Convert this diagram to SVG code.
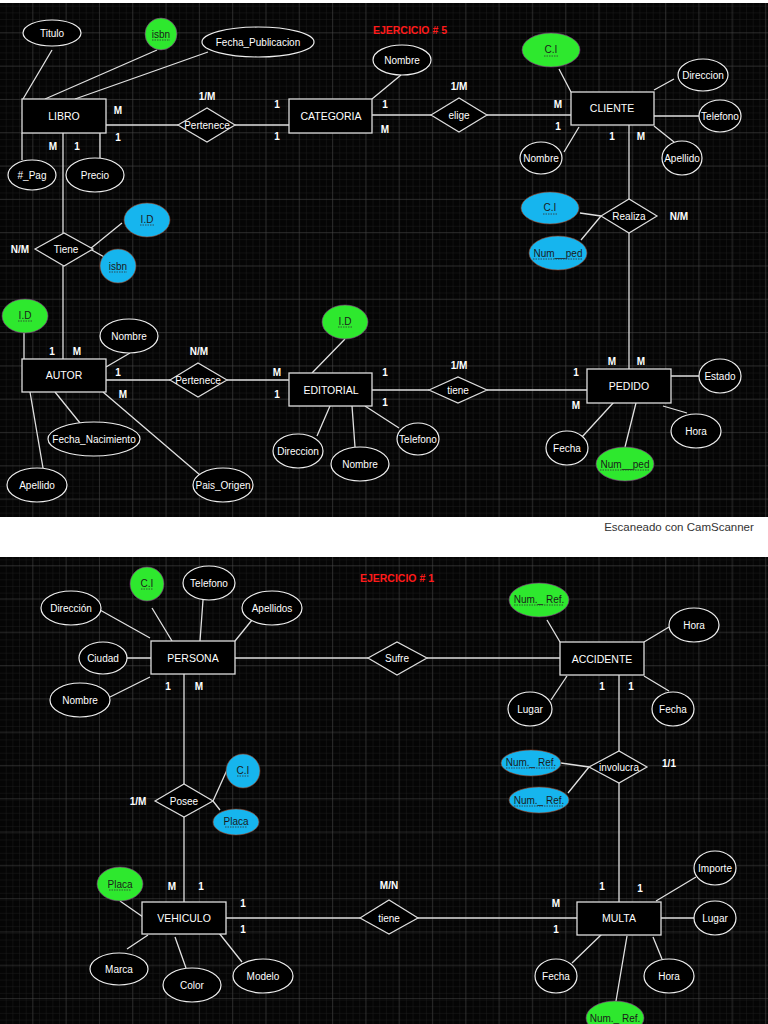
<svg xmlns="http://www.w3.org/2000/svg" width="768" height="1024" viewBox="0 0 768 1024">
<defs>
<pattern id="minor" width="6.67" height="6.67" patternUnits="userSpaceOnUse">
<path d="M6.67 0V6.67M0 6.67H6.67" fill="none" stroke="#262626" stroke-width="0.6"/>
</pattern>
<pattern id="major" width="33.3" height="33.3" patternUnits="userSpaceOnUse">
<path d="M33.3 0V33.3M0 33.3H33.3" fill="none" stroke="#4a4a4a" stroke-width="0.9"/>
</pattern>
</defs>
<style>
text{font-family:"Liberation Sans",Arial,sans-serif;font-size:10px;text-anchor:middle;dominant-baseline:central}
.w{fill:#fff}
.d{fill:#1a1a1a}
.e{font-size:10.5px}
.c{fill:#fff;font-weight:bold;font-size:10px}
.title{fill:#ff1a1a;font-weight:bold;font-size:10.5px}
.ent{fill:#000;stroke:#ddd;stroke-width:1.3}
.att{fill:#000;stroke:#eee;stroke-width:1.2}
.rel{fill:#000;stroke:#ddd;stroke-width:1.2}
.g{fill:#2ee82e;stroke:#8a2a8a;stroke-width:0.6}
.b{fill:#16b5ee;stroke:#a04020;stroke-width:0.6}
.ln{stroke:#e0e0e0;stroke-width:1.3;fill:none}
.ul{stroke:#333;stroke-width:0.8;stroke-dasharray:1.5 1;fill:none}
</style>
<rect width="768" height="1024" fill="#fff"/>
<rect x="0" y="3" width="768" height="514" fill="#050505"/>
<rect x="0" y="3" width="768" height="514" fill="url(#minor)"/>
<rect x="0" y="3" width="768" height="514" fill="url(#major)"/>
<rect x="0" y="557" width="768" height="467" fill="#050505"/>
<rect x="0" y="557" width="768" height="467" fill="url(#minor)"/>
<rect x="0" y="557" width="768" height="467" fill="url(#major)"/>
<text x="679" y="527" style="fill:#333;font-size:11.5px">Escaneado con CamScanner</text>

<g id="connectors">
<path class="ln" d="M52 50L23 99M157 50L45 99M208 52L75 99M22 133V160M100 133V158M106 125H178M235 125H289M401 75L372 99M372 115H431M487 115H571M559 69L571 92M654 90L674 79M654 116H699M654 126L674 142M564 152L579 127M629 125V199M629 233V369M580 213L601 216M581 240L601 216M63 133V233M63 266V359M90 249L122 223M90 249L106 258M24 333V359M106 367L130 353M106 380H170M227 380H289M312 373L345 339M55 392L80 423M30 392L43 468M103 392L200 475M330 406L317 436M352 406L355 447M365 406L399 428M372 390H429M487 390H587M671 376H699M663 406L687 413M614 402L582 437M636 403L625 447"/>
<path class="ln" d="M152 608L172 641M203 600L200 641M252 620L235 641M100 610L150 638M127 658H151M108 698L150 677M184 674V784M184 817V902M213 801L227 770M213 801L220 810M235 658H368M427 658H560M547 620L560 642M644 642L669 627M551 700L567 676M644 676L669 691M619 675V751M619 783V902M561 763L589 767M568 793L589 767M120 901L143 917M226 918H360M418 918H577M127 949L148 935M175 937L186 968M219 933L242 962M656 901L696 877M661 918H694M602 934L572 963M653 937L662 959M627 936L616 1001"/>
</g>

<text class="title" x="410" y="30">EJERCICIO # 5</text>
<text class="title" x="397" y="578">EJERCICIO # 1</text>

<g id="cards-top">
<text class="c" x="53" y="146">M</text><text class="c" x="77" y="146">1</text>
<text class="c" x="118" y="110">M</text><text class="c" x="118" y="137">1</text>
<text class="c" x="207" y="96">1/M</text>
<text class="c" x="277" y="104">1</text><text class="c" x="277" y="136">1</text>
<text class="c" x="385" y="104">1</text><text class="c" x="385" y="129">M</text>
<text class="c" x="459" y="86">1/M</text>
<text class="c" x="558" y="104">M</text><text class="c" x="558" y="126">1</text>
<text class="c" x="612" y="136">1</text><text class="c" x="641" y="136">M</text>
<text class="c" x="679" y="216">N/M</text>
<text class="c" x="20" y="249">N/M</text>
<text class="c" x="52" y="351">1</text><text class="c" x="77" y="351">M</text>
<text class="c" x="199" y="351">N/M</text>
<text class="c" x="118" y="372">1</text><text class="c" x="123" y="394">M</text>
<text class="c" x="277" y="372">M</text><text class="c" x="277" y="394">1</text>
<text class="c" x="385" y="372">1</text><text class="c" x="385" y="402">1</text>
<text class="c" x="459" y="365">1/M</text>
<text class="c" x="576" y="372">1</text><text class="c" x="576" y="405">M</text>
<text class="c" x="612" y="361">M</text><text class="c" x="641" y="361">M</text>
</g>

<g id="LIBRO"><rect class="ent" x="22" y="99" width="84" height="34"/><text class="w e" x="64" y="116">LIBRO</text></g>
<g id="Titulo"><ellipse class="att" cx="52" cy="33" rx="29" ry="13"/><text class="w" x="52" y="33">Titulo</text></g>
<g id="isbn"><circle class="g" cx="161" cy="34" r="16"/><text class="d" x="161" y="34">isbn</text><path class="ul" d="M152 40H170"/></g>
<g id="Fecha_Publicacion"><ellipse class="att" cx="258" cy="42" rx="56" ry="15"/><text class="w" x="258" y="42">Fecha_Publicacion</text></g>
<g id="Pag"><ellipse class="att" cx="32" cy="175" rx="24" ry="15"/><text class="w" x="32" y="175">#_Pag</text></g>
<g id="Precio"><ellipse class="att" cx="95" cy="175" rx="29" ry="17"/><text class="w" x="95" y="175">Precio</text></g>
<g id="Pertenece1"><path class="rel" d="M178 125L207 108L235 125L207 142Z"/><text class="w" x="207" y="125">Pertenece</text></g>
<g id="CATEGORIA"><rect class="ent" x="289" y="99" width="83" height="34"/><text class="w e" x="331" y="116">CATEGORIA</text></g>
<g id="NombreCat"><ellipse class="att" cx="402" cy="60" rx="29" ry="15"/><text class="w" x="402" y="60">Nombre</text></g>
<g id="elige"><path class="rel" d="M431 115L459 98L487 115L459 132Z"/><text class="w" x="459" y="115">elige</text></g>
<g id="CLIENTE"><rect class="ent" x="571" y="92" width="83" height="33"/><text class="w e" x="612" y="108">CLIENTE</text></g>
<g id="CI_cliente"><ellipse class="g" cx="551" cy="50" rx="29" ry="17"/><text class="d" x="551" y="49">C.I</text><path class="ul" d="M544 56H558"/></g>
<g id="Direccion_cliente"><ellipse class="att" cx="703" cy="75" rx="25" ry="16"/><text class="w" x="703" y="75">Direccion</text></g>
<g id="Telefono_cliente"><ellipse class="att" cx="720" cy="116" rx="21" ry="16"/><text class="w" x="720" y="116">Telefono</text></g>
<g id="Apellido_cliente"><ellipse class="att" cx="682" cy="158" rx="20" ry="17"/><text class="w" x="682" y="158">Apellido</text></g>
<g id="Nombre_cliente"><ellipse class="att" cx="541" cy="158" rx="21" ry="16"/><text class="w" x="541" y="158">Nombre</text></g>
<g id="Realiza"><path class="rel" d="M601 216L629 199L657 216L629 233Z"/><text class="w" x="629" y="216">Realiza</text></g>
<g id="CI_realiza"><ellipse class="b" cx="550" cy="208" rx="29" ry="16"/><text class="d" x="550" y="207">C.I</text><path class="ul" d="M543 214H557"/></g>
<g id="Numped_realiza"><ellipse class="b" cx="558" cy="253" rx="29" ry="17"/><text class="d" x="558" y="253">Num__ped</text><path class="ul" d="M533 259H583"/></g>
<g id="Tiene"><path class="rel" d="M35 249L64 233L93 249L64 266Z"/><text class="w" x="66" y="249">Tiene</text></g>
<g id="ID_tiene"><ellipse class="b" cx="147" cy="220" rx="23" ry="17"/><text class="d" x="147" y="219">I.D</text><path class="ul" d="M140 225H154"/></g>
<g id="isbn_tiene"><ellipse class="b" cx="118" cy="266" rx="18" ry="17"/><text class="d" x="118" y="266">isbn</text><path class="ul" d="M109 272H127"/></g>
<g id="AUTOR"><rect class="ent" x="22" y="359" width="84" height="33"/><text class="w e" x="64" y="375">AUTOR</text></g>
<g id="ID_autor"><ellipse class="g" cx="25" cy="316" rx="23" ry="17"/><text class="d" x="25" y="315">I.D</text><path class="ul" d="M18 321H32"/></g>
<g id="Nombre_autor"><ellipse class="att" cx="129" cy="336" rx="29" ry="17"/><text class="w" x="129" y="336">Nombre</text></g>
<g id="Fecha_Nacimiento"><ellipse class="att" cx="94" cy="439" rx="46" ry="17"/><text class="w" x="94" y="439">Fecha_Nacimiento</text></g>
<g id="Apellido_autor"><ellipse class="att" cx="37" cy="485" rx="30" ry="17"/><text class="w" x="37" y="485">Apellido</text></g>
<g id="Pais_Origen"><ellipse class="att" cx="223" cy="485" rx="30" ry="17"/><text class="w" x="223" y="485">Pais_Origen</text></g>
<g id="Pertenece2"><path class="rel" d="M170 380L198 363L227 380L198 397Z"/><text class="w" x="198" y="380">Pertenece</text></g>
<g id="EDITORIAL"><rect class="ent" x="289" y="373" width="83" height="33"/><text class="w e" x="331" y="390">EDITORIAL</text></g>
<g id="ID_editorial"><ellipse class="g" cx="345" cy="322" rx="23" ry="17"/><text class="d" x="345" y="321">I.D</text><path class="ul" d="M338 327H352"/></g>
<g id="Direccion_editorial"><ellipse class="att" cx="298" cy="451" rx="25" ry="17"/><text class="w" x="298" y="451">Direccion</text></g>
<g id="Nombre_editorial"><ellipse class="att" cx="360" cy="464" rx="29" ry="17"/><text class="w" x="360" y="464">Nombre</text></g>
<g id="Telefono_editorial"><ellipse class="att" cx="418" cy="439" rx="21" ry="16"/><text class="w" x="418" y="439">Telefono</text></g>
<g id="tiene_top"><path class="rel" d="M429 390L458 377L487 390L458 403Z"/><text class="w" x="458" y="390">tiene</text></g>
<g id="PEDIDO"><rect class="ent" x="587" y="369" width="84" height="34"/><text class="w e" x="629" y="386">PEDIDO</text></g>
<g id="Estado"><ellipse class="att" cx="720" cy="376" rx="21" ry="17"/><text class="w" x="720" y="376">Estado</text></g>
<g id="Hora_pedido"><ellipse class="att" cx="696" cy="431" rx="25" ry="17"/><text class="w" x="696" y="431">Hora</text></g>
<g id="Fecha_pedido"><ellipse class="att" cx="567" cy="448" rx="21" ry="17"/><text class="w" x="567" y="448">Fecha</text></g>
<g id="Numped_pedido"><ellipse class="g" cx="625" cy="464" rx="29" ry="17"/><text class="d" x="625" y="464">Num__ped</text><path class="ul" d="M600 470H650"/></g>

<g id="cards-bottom">
<text class="c" x="168" y="686">1</text><text class="c" x="199" y="686">M</text>
<text class="c" x="602" y="686">1</text><text class="c" x="631" y="686">1</text>
<text class="c" x="138" y="801">1/M</text>
<text class="c" x="669" y="763">1/1</text>
<text class="c" x="172" y="886">M</text><text class="c" x="201" y="886">1</text>
<text class="c" x="243" y="903">1</text><text class="c" x="243" y="929">1</text>
<text class="c" x="389" y="885">M/N</text>
<text class="c" x="556" y="903">M</text><text class="c" x="556" y="929">1</text>
<text class="c" x="602" y="886">1</text><text class="c" x="640" y="888">1</text>
</g>

<g id="PERSONA"><rect class="ent" x="151" y="641" width="84" height="33"/><text class="w e" x="193" y="658">PERSONA</text></g>
<g id="CI_persona"><circle class="g" cx="147" cy="584" r="17"/><text class="d" x="147" y="583">C.I</text><path class="ul" d="M141 589H153"/></g>
<g id="Telefono_persona"><ellipse class="att" cx="209" cy="583" rx="26" ry="17"/><text class="w" x="209" y="583">Telefono</text></g>
<g id="Apellidos"><ellipse class="att" cx="272" cy="608" rx="30" ry="17"/><text class="w" x="272" y="608">Apellidos</text></g>
<g id="Direccion_persona"><ellipse class="att" cx="71" cy="608" rx="30" ry="17"/><text class="w" x="71" y="608">Dirección</text></g>
<g id="Ciudad"><ellipse class="att" cx="103" cy="658" rx="24" ry="16"/><text class="w" x="103" y="658">Ciudad</text></g>
<g id="Nombre_persona"><ellipse class="att" cx="80" cy="700" rx="30" ry="17"/><text class="w" x="80" y="700">Nombre</text></g>
<g id="Sufre"><path class="rel" d="M368 658L397 642L427 658L397 675Z"/><text class="w" x="397" y="658">Sufre</text></g>
<g id="ACCIDENTE"><rect class="ent" x="560" y="642" width="84" height="33"/><text class="w e" x="602" y="659">ACCIDENTE</text></g>
<g id="NumRef_accidente"><ellipse class="g" cx="539" cy="600" rx="30" ry="17"/><text class="d" x="539" y="599">Num._ Ref.</text><path class="ul" d="M514 605H564"/></g>
<g id="Hora_accidente"><ellipse class="att" cx="694" cy="625" rx="25" ry="17"/><text class="w" x="694" y="625">Hora</text></g>
<g id="Lugar_accidente"><ellipse class="att" cx="530" cy="709" rx="22" ry="17"/><text class="w" x="530" y="709">Lugar</text></g>
<g id="Fecha_accidente"><ellipse class="att" cx="673" cy="709" rx="21" ry="17"/><text class="w" x="673" y="709">Fecha</text></g>
<g id="Posee"><path class="rel" d="M155 801L184 784L213 801L184 817Z"/><text class="w" x="184" y="801">Posee</text></g>
<g id="CI_posee"><circle class="b" cx="243" cy="771" r="17"/><text class="d" x="243" y="770">C.I</text><path class="ul" d="M237 776H249"/></g>
<g id="Placa_posee"><ellipse class="b" cx="236" cy="822" rx="23" ry="13"/><text class="d" x="236" y="821">Placa</text><path class="ul" d="M225 827H247"/></g>
<g id="involucra"><path class="rel" d="M589 767L619 751L647 767L619 783Z"/><text class="w" x="619" y="767">involucra</text></g>
<g id="NumRef_inv1"><ellipse class="b" cx="531" cy="763" rx="30" ry="13"/><text class="d" x="531" y="762">Num._ Ref.</text><path class="ul" d="M506 768H556"/></g>
<g id="NumRef_inv2"><ellipse class="b" cx="539" cy="800" rx="30" ry="13"/><text class="d" x="539" y="800">Num._ Ref.</text><path class="ul" d="M514 806H564"/></g>
<g id="VEHICULO"><rect class="ent" x="142" y="902" width="84" height="32"/><text class="w e" x="184" y="918">VEHICULO</text></g>
<g id="Placa_vehiculo"><ellipse class="g" cx="120" cy="884" rx="23" ry="17"/><text class="d" x="120" y="884">Placa</text><path class="ul" d="M109 890H131"/></g>
<g id="Marca"><ellipse class="att" cx="119" cy="969" rx="29" ry="16"/><text class="w" x="119" y="969">Marca</text></g>
<g id="Color"><ellipse class="att" cx="192" cy="985" rx="29" ry="17"/><text class="w" x="192" y="985">Color</text></g>
<g id="Modelo"><ellipse class="att" cx="263" cy="976" rx="30" ry="17"/><text class="w" x="263" y="976">Modelo</text></g>
<g id="tiene_bottom"><path class="rel" d="M360 918L389 900L418 918L389 934Z"/><text class="w" x="389" y="918">tiene</text></g>
<g id="MULTA"><rect class="ent" x="577" y="902" width="84" height="33"/><text class="w e" x="619" y="918">MULTA</text></g>
<g id="Importe"><ellipse class="att" cx="715" cy="868" rx="21" ry="17"/><text class="w" x="715" y="868">Importe</text></g>
<g id="Lugar_multa"><ellipse class="att" cx="715" cy="918" rx="21" ry="17"/><text class="w" x="715" y="918">Lugar</text></g>
<g id="Fecha_multa"><ellipse class="att" cx="556" cy="976" rx="21" ry="17"/><text class="w" x="556" y="976">Fecha</text></g>
<g id="Hora_multa"><ellipse class="att" cx="669" cy="976" rx="25" ry="17"/><text class="w" x="669" y="976">Hora</text></g>
<g id="NumRef_multa"><ellipse class="g" cx="615" cy="1018" rx="29" ry="17"/><text class="d" x="615" y="1018">Num._ Ref.</text></g>
</svg>
